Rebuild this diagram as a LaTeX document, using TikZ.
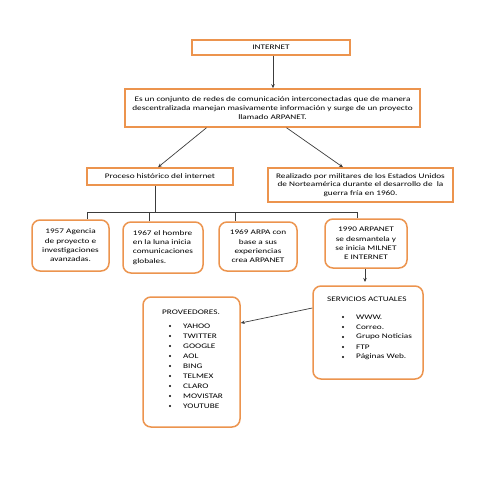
\documentclass[tikz,border=0pt]{standalone}
\usepackage{fontspec}
\setmainfont[FakeStretch=1.32]{Carlito}
\usetikzlibrary{arrows.meta}
\definecolor{orb}{RGB}{236,148,78}
\definecolor{ln}{RGB}{60,60,60}
\tikzset{
  box/.style={draw=orb, line width=1.5pt, fill=white, inner sep=1pt, align=center, font=\fontsize{7}{8.7}\selectfont},
  rbox/.style={box, rounded corners=8pt, font=\fontsize{7}{9.3}\selectfont},
  conn/.style={draw=ln, line width=0.7pt},
  arr/.style={conn, -{Stealth[length=4pt,width=3.5pt]}},
  txt/.style={inner sep=0pt, anchor=west, font=\fontsize{7}{8.5}\selectfont},
  bul/.style={circle, fill=black, inner sep=0pt, minimum size=2.2pt},
}
\begin{document}
\begin{tikzpicture}[x=1pt,y=-1pt]
\useasboundingbox (0,0) rectangle (495,495);
\node[box, minimum width=158pt, minimum height=15pt] (internet) at (271,47.5) {INTERNET};
\node[box, minimum width=295pt, minimum height=38pt] (desc) at (272.5,108) {Es un conjunto de redes de comunicación interconectadas que de manera\\descentralizada manejan masivamente información y surge de un proyecto\\llamado ARPANET.};
\node[box, minimum width=146pt, minimum height=17pt] (proc) at (160,176.5) {Proceso histórico del internet};
\node[box, minimum width=185pt, minimum height=34pt] (real) at (360.5,185) {Realizado por militares de los Estados Unidos\\de Norteamérica durante el desarrollo de \ la\\guerra fría en 1960.};
\node[rbox, minimum width=77pt, minimum height=51pt] (b1957) at (70.5,245.5) {1957 Agencia\\de proyecto e\\investigaciones\\avanzadas.};
\node[rbox, minimum width=80pt, minimum height=51pt, align=left] (b1967) at (163,247.5) {1967 el hombre\\en la luna inicia\\comunicaciones\\globales.};
\node[rbox, minimum width=78pt, minimum height=49pt] (b1969) at (258,246.5) {1969 ARPA con\\base a sus\\experiencias\\crea ARPANET};
\node[rbox, minimum width=82pt, minimum height=49pt] (b1990) at (366,243.5) {1990 ARPANET\\se desmantela y\\se inicia MILNET\\E INTERNET};
\node[rbox, minimum width=110pt, minimum height=93pt] (serv) at (368,332.5) {};
\node[rbox, minimum width=97pt, minimum height=130pt] (prov) at (191.5,362) {};
% list texts
\node[txt] (ptitle) at (162,312) {PROVEEDORES.};
\foreach \t [count=\i] in {YAHOO,TWITTER,GOOGLE,AOL,BING,TELMEX,CLARO,MOVISTAR,YOUTUBE}{
  \node[bul] (pb\i) at (170,316+10*\i) {};
  \node[txt] (pi\i) at (183,316+10*\i) {\t};
}
\node[txt] (stitle) at (327,299) {SERVICIOS ACTUALES};
\foreach \t [count=\i] in {WWW.,Correo.,Grupo Noticias,FTP,Páginas Web.}{
  \node[bul] (sb\i) at (343,307+10*\i) {};
  \node[txt] (si\i) at (356,307+10*\i) {\t};
}
% connectors
\draw[arr] ([xshift=2pt]internet.south) -- ([xshift=0.5pt]desc.north);
\draw[arr] ([xshift=-66pt]desc.south) -- ([xshift=-2pt]proc.north);
\draw[arr] ([xshift=14pt]desc.south) -- ([xshift=-17.5pt]real.north);
\coordinate (bus) at (155,212);
\draw[conn] ([xshift=-5pt]proc.south) -- (bus);
\draw[conn] ([xshift=16.5pt]b1957.north) |- (bus);
\draw[conn] ([xshift=-9pt]b1990.north) |- (bus);
\draw[conn] ([xshift=-14pt]b1967.north) -- ([xshift=-14pt]b1967.north |- bus);
\draw[conn] ([xshift=-23pt]b1969.north) -- ([xshift=-23pt]b1969.north |- bus);
\coordinate (a90) at (365,282);
\draw[arr] ([xshift=-1pt]b1990.south) -- (a90);
\draw[arr] ([yshift=24.5pt]serv.west) -- ([yshift=39pt]prov.east);
\end{tikzpicture}
\end{document}
